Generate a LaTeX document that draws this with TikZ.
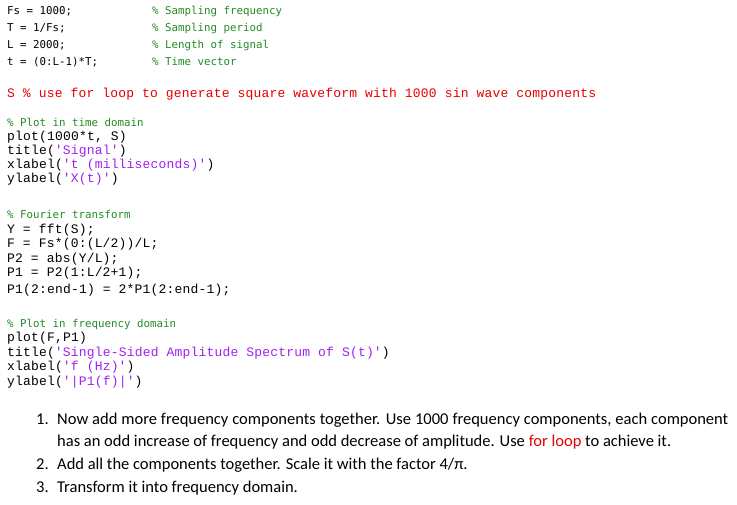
\documentclass[tikz,border=0pt]{standalone}
\usepackage{fontspec}
\setmainfont{Carlito}
\newfontfamily\dvm{DejaVu Sans Mono}
\newfontfamily\lmo[LetterSpace=1.5]{Liberation Mono}
\definecolor{cmt}{RGB}{34,139,34}
\definecolor{str}{RGB}{160,32,240}
\definecolor{redc}{RGB}{230,0,0}
\begin{document}
\begin{tikzpicture}[x=1pt,y=-1pt,
  a/.style={anchor=base west,inner sep=0pt,font=\dvm\fontsize{10.8}{12}\selectfont},
  c/.style={a,text=cmt},
  b/.style={anchor=base west,inner sep=0pt,font=\lmo\fontsize{13}{14}\selectfont},
  t/.style={anchor=base west,inner sep=0pt,font=\fontsize{16.5}{18}\selectfont}]
\useasboundingbox (0,0) rectangle (737,504);
\node[a] (l1) at (7,14) {Fs = 1000;};
\node[a] (l2) at (7,31) {T = 1/Fs;};
\node[a] (l3) at (7,48) {L = 2000;};
\node[a] (l4) at (7,65) {t = (0:L-1)*T;};
\node[c] (c1) at (152,14) {\% Sampling frequency};
\node[c] (c2) at (152,31) {\% Sampling period};
\node[c] (c3) at (152,48) {\% Length of signal};
\node[c] (c4) at (152,65) {\% Time vector};
\node[b,text=redc] (s) at (7,97) {S \% use for loop to generate square waveform with 1000 sin wave components};
\node[c] (p0) at (7,126) {\% Plot in time domain};
\node[b] (p1) at (7,140) {plot(1000*t, S)};
\node[b] (p2) at (7,154) {title(\textcolor{str}{'Signal'})};
\node[b] (p3) at (7,168) {xlabel(\textcolor{str}{'t (milliseconds)'})};
\node[b] (p4) at (7,182) {ylabel(\textcolor{str}{'X(t)'})};
\node[c] (f0) at (7,218) {\% Fourier transform};
\node[b] (f1) at (7,233) {Y = fft(S);};
\node[b] (f2) at (7,247) {F = Fs*(0:(L/2))/L;};
\node[b] (f3) at (7,262) {P2 = abs(Y/L);};
\node[b] (f4) at (7,276) {P1 = P2(1:L/2+1);};
\node[b] (f5) at (7,293) {P1(2:end-1) = 2*P1(2:end-1);};
\node[c] (q0) at (7,327) {\% Plot in frequency domain};
\node[b] (q1) at (7,341) {plot(F,P1)};
\node[b] (q2) at (7,356) {title(\textcolor{str}{'Single-Sided Amplitude Spectrum of S(t)'})};
\node[b] (q3) at (7,370) {xlabel(\textcolor{str}{'f (Hz)'})};
\node[b] (q4) at (7,385) {ylabel(\textcolor{str}{'|P1(f)|'})};
\node[t] (n1) at (36,424) {1.};
\node[t] (i1) at (57,424) {\makebox[671pt][s]{Now add more frequency components together. Use 1000 frequency components, each component}};
\node[t] (i1b) at (57,446) {has an odd increase of frequency and odd decrease of amplitude. Use \textcolor{redc}{for loop} to achieve it.};
\node[t] (n2) at (36,469) {2.};
\node[t] (i2) at (57,469) {Add all the components together. Scale it with the factor 4/π.};
\node[t] (n3) at (36,492) {3.};
\node[t] (i3) at (57,492) {Transform it into frequency domain.};
\end{tikzpicture}
\end{document}
